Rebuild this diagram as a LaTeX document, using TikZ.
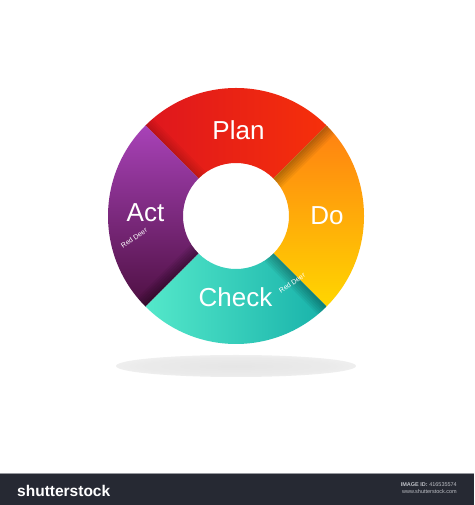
\documentclass[tikz,border=0pt]{standalone}
\usepackage{fontspec}
\setmainfont{Liberation Sans}
\usetikzlibrary{calc}
\definecolor{planL}{RGB}{222,22,30}
\definecolor{planR}{RGB}{246,48,10}
\definecolor{doT}{RGB}{255,128,18}
\definecolor{doB}{RGB}{255,214,0}
\definecolor{checkL}{RGB}{84,232,202}
\definecolor{checkR}{RGB}{24,178,170}
\definecolor{actT}{RGB}{168,66,184}
\definecolor{actB}{RGB}{78,16,66}
\definecolor{barcol}{RGB}{38,41,51}
\definecolor{barline}{RGB}{150,152,158}
\definecolor{idgray}{RGB}{190,192,198}
\pgfdeclareradialshading{softshadow}{\pgfpoint{0bp}{0bp}}{color(0bp)=(black!10); color(20bp)=(black!8); color(36bp)=(black!3); color(50bp)=(white)}
\newcommand\ringseg[2]{($(C)+(#1:128)$) arc[start angle=#1,end angle=#2,radius=128] -- ($(C)+(#2:53)$) arc[start angle=#2,end angle=#1,radius=53] -- cycle}
\tikzset{
  lbl/.style={text=white, inner sep=0pt, font=\fontsize{26}{26}\selectfont},
  wm/.style={text=white, inner sep=0pt, font=\fontsize{7}{7}\selectfont},
  strip/.style={black, opacity=#1},
}
\begin{document}
\begin{tikzpicture}[x=1pt,y=1pt]
\useasboundingbox (0,0) rectangle (474,505);
\fill[white] (0,0) rectangle (474,505);
\coordinate (C) at (236,289);
% soft shadow under the ring
\shade[shading=softshadow] (236,139) ellipse [x radius=120, y radius=11];
% segments
\shade[left color=planL, right color=planR] \ringseg{45}{135};
\shade[top color=doT, bottom color=doB] \ringseg{-45}{45};
\shade[left color=checkL, right color=checkR] \ringseg{-135}{-45};
\shade[top color=actT, bottom color=actB] \ringseg{135}{225};
% folded shadows at the boundaries
\begin{scope}
  \clip \ringseg{-45}{45};
  \begin{scope}[shift={(236,289)}, rotate=45]
    \foreach \w in {2,4,6,8,10,12} \fill[strip=0.05] (50,0) rectangle (140,-\w);
  \end{scope}
\end{scope}
\begin{scope}
  \clip \ringseg{-135}{-45};
  \begin{scope}[shift={(236,289)}, rotate=-45]
    \foreach \w in {2,4,6,8,10,12} \fill[strip=0.05] (50,0) rectangle (140,-\w);
  \end{scope}
\end{scope}
\begin{scope}
  \clip \ringseg{135}{225};
  \begin{scope}[shift={(236,289)}, rotate=225]
    \foreach \w in {2,4,6,8,10,12} \fill[strip=0.06] (50,0) rectangle (140,-\w);
  \end{scope}
\end{scope}
\begin{scope}
  \clip \ringseg{45}{135};
  \begin{scope}[shift={(236,289)}, rotate=135]
    \foreach \w in {2,4,6,8,10} \fill[strip=0.03] (50,0) rectangle (140,-\w);
  \end{scope}
\end{scope}
% labels
\node[lbl, anchor=base] (plan) at (238.5,365) {Plan};
\node[lbl, anchor=base] (do) at (327,280) {Do};
\node[lbl, anchor=base] (act) at (145.5,283) {Act};
\node[lbl, anchor=base] (check) at (235.5,198) {Check};
\node[wm, rotate=35] (rd1) at (134,267) {Red Deer};
\node[wm, rotate=35] (rd2) at (292,222) {Red Deer};
% bottom bar
\fill[barcol] (0,0) rectangle (474,31);
\draw[barline, line width=0.8pt] (0,31.4) -- (474,31.4);
\node[anchor=base west, inner sep=0pt, text=white, font=\bfseries\fontsize{15.5}{15.5}\selectfont] (logo) at (17,9) {shutterstock};
\node[anchor=base east, inner sep=0pt, text=idgray, font=\fontsize{5.5}{5.5}\selectfont] (imgid) at (457,18) {\textbf{IMAGE ID:} 416535574};
\node[anchor=base east, inner sep=0pt, text=idgray, font=\fontsize{5.5}{5.5}\selectfont] (www) at (457,11.5) {www.shutterstock.com};
\end{tikzpicture}
\end{document}
